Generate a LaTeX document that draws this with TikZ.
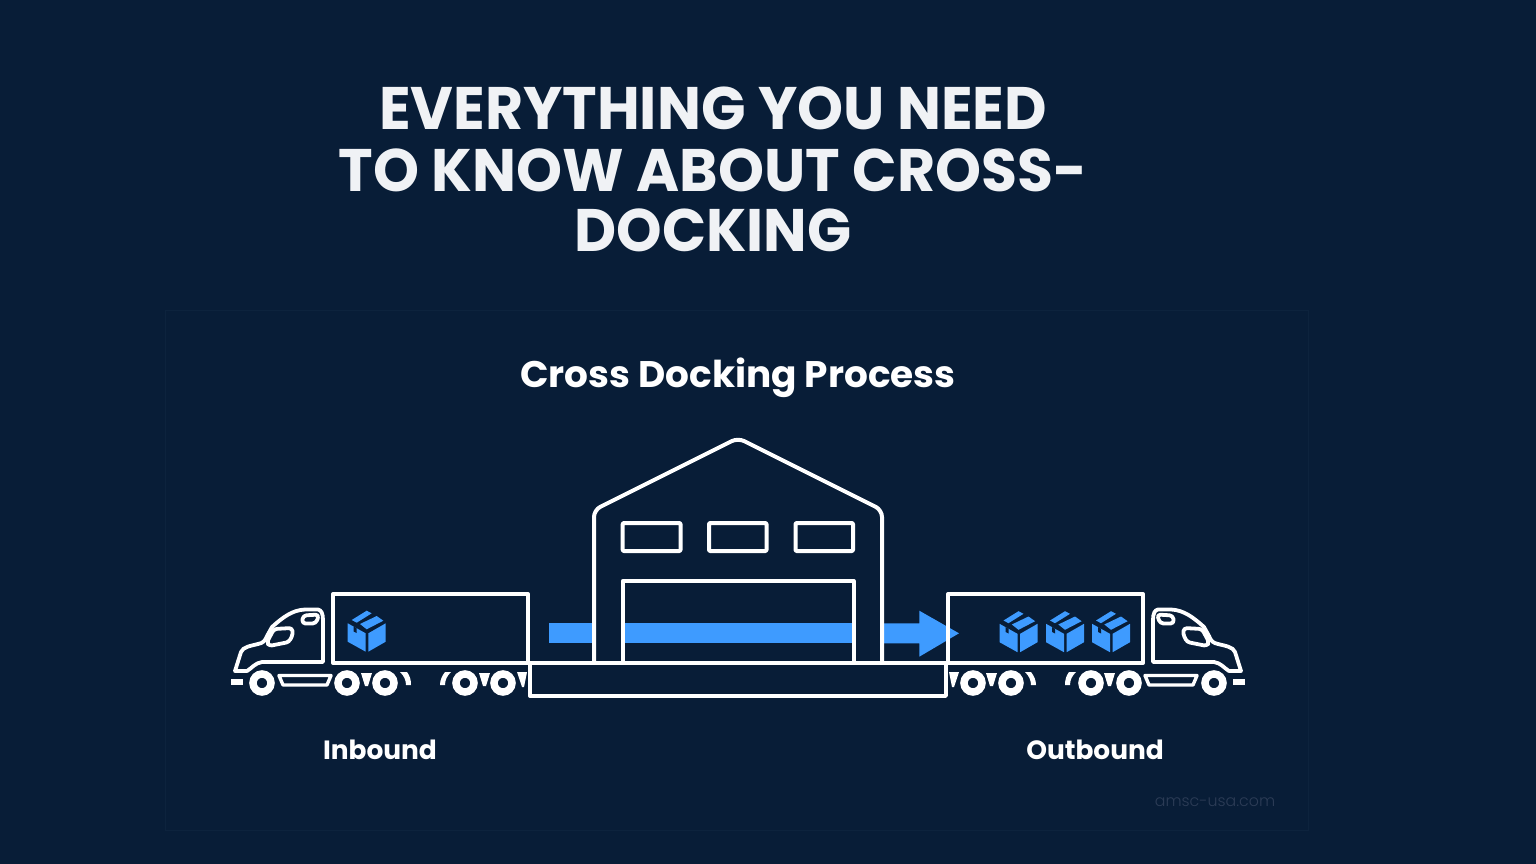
\documentclass[tikz,border=0pt]{standalone}
\usepackage{fontspec}
\setmainfont{Poppins}
\newfontfamily\poplight{Poppins Light}
\definecolor{bgnavy}{RGB}{8,29,55}
\definecolor{panelline}{RGB}{13,35,61}
\definecolor{boxblue}{RGB}{62,155,255}
\definecolor{titlewhite}{RGB}{240,242,245}
\definecolor{marktext}{RGB}{44,60,86}
\tikzset{
  outline/.style={draw=white,line width=4pt,line join=round},
  thinline/.style={draw=white,line width=3.4pt,line join=round},
  solidwhite/.style={fill=white,draw=none},
  bluefill/.style={fill=boxblue,draw=none},
  titletext/.style={text=titlewhite,anchor=base,inner sep=0pt},
  labeltext/.style={text=white,anchor=base,inner sep=0pt},
}
\newcommand{\titlefont}{\bfseries\fontsize{60}{60}\selectfont}
\newcommand{\boxicon}[2]{%
  \begin{scope}[shift={(#1,#2)}]
    \fill[bluefill] (-19,-7.7) -- (-1,2.3) -- (-1,20.7) -- (-19,10.7) -- cycle;
    \fill[bluefill] (1.6,2.3) -- (19,-7.7) -- (19,10.7) -- (1.6,20.7) -- cycle;
    \fill[bluefill] (-15,-11) -- (0,-20.3) -- (5,-17.7) -- (-10,-8.3) -- cycle;
    \fill[bluefill] (-6.7,-7) -- (10,-15) -- (16.6,-10.3) -- (0,-1.7) -- cycle;
    \fill[bgnavy] (-13,-4.5) -- (-13,0.5) -- (-10,2) -- (-10,-2.8) -- cycle;
  \end{scope}}
\newcommand{\wheel}[1]{\draw[white,line width=7.5pt] (#1,683) circle (9);}
\newcommand{\truckrig}{%
  % trailer
  \draw[outline] (333,594) rectangle (528,663);
  % cab
  \draw[thinline,line width=3.8pt] (235,671) -- (241,652)
     .. controls (243,647) and (250,646) .. (258,644)
     .. controls (263,643) and (265,641) .. (267,636) -- (272,627)
     .. controls (282,618) and (292,610) .. (305,609.5) -- (318,609.5)
     .. controls (321,610) and (323,613) .. (323,620) -- (323,662) -- (262,662)
     .. controls (255,663) and (252,668) .. (247,671) -- cycle;
  \draw[thinline,line width=3.8pt,rounded corners=3pt] (274,629) -- (292,628) -- (293,634) -- (289,642) -- (269,646) -- (267,642) -- cycle;
  \draw[thinline,line width=3.8pt,rounded corners=3.5pt] (303,615.5) -- (319,614.5) -- (316,623.5) -- (302,623.5) -- cycle;
  % bumper and step
  \fill[solidwhite] (231,679) rectangle (243,684.5);
  \draw[thinline] (279,675.5) -- (331,675.5) -- (327,685) -- (283,685) -- cycle;
  % wheels
  \wheel{262}\wheel{347}\wheel{385}\wheel{465}\wheel{503}
  % mudguards
  \fill[solidwhite] (361,673) -- (372,673) -- (368,686) -- (365,686) -- cycle;
  \fill[solidwhite] (400,672) -- (407,672) .. controls (410,676) and (411,680) .. (411,685) -- (406,685) .. controls (406,680) and (404,676) .. (400,672) -- cycle;
  \fill[solidwhite] (451,672) -- (445,672) .. controls (442,676) and (440,680) .. (440,685) -- (445,685) .. controls (445,680) and (447,676) .. (451,672) -- cycle;
  \fill[solidwhite] (479,673) -- (490,673) -- (486,686) -- (483,686) -- cycle;
  \fill[solidwhite] (517,672) -- (527,672) -- (524,687) -- (522,687) -- cycle;
}
\begin{document}
\begin{tikzpicture}[x=1pt,y=-1pt]
  \useasboundingbox (0,0) rectangle (1536,864);
  \fill[bgnavy] (0,0) rectangle (1536,864);
  \draw[panelline,line width=1pt] (165,310) rectangle (1308,830);

  % title
  \node[titletext,font=\titlefont] (t1) at (713,130) {\scalebox{0.975}[1]{EVERYTHING YOU NEED}};
  \node[titletext,font=\titlefont] (t2) at (713,191) {\scalebox{0.975}[1]{TO KNOW ABOUT CROSS-}};
  \node[titletext,font=\titlefont] (t3) at (713,251) {\scalebox{0.965}[1]{DOCKING}};
  \node[labeltext,font=\bfseries\fontsize{37}{37}\selectfont] (sub) at (738,387) {\scalebox{1.012}[1]{Cross Docking Process}};

  % arrow, hidden behind the building walls
  \fill[bluefill] (549,623.3) rectangle (594,643.3);
  \fill[bluefill] (622,623.3) rectangle (854,643.3);
  \fill[bluefill] (882,623.3) -- (919.3,623.3) -- (919.3,610.7) -- (959,633.3) -- (919.3,656.7) -- (919.3,643.3) -- (882,643.3) -- cycle;

  % building
  \draw[outline,rounded corners=7pt] (594,663) -- (594,510) -- (738,438) -- (882,510) -- (882,663);
  \draw[outline,rounded corners=1pt] (622.7,523) rectangle (680.5,551);
  \draw[outline,rounded corners=1pt] (709,523) rectangle (766.5,551);
  \draw[outline,rounded corners=1pt] (795.5,523) rectangle (853,551);
  \draw[outline] (622.7,663) -- (622.7,581) -- (853.5,581) -- (853.5,663);
  \draw[thinline] (530,663) rectangle (946,696);

  % trucks
  \truckrig
  \begin{scope}[xshift=1476pt,xscale=-1]
    \truckrig
  \end{scope}

  % parcels
  \boxicon{366.7}{631}
  \boxicon{1018.5}{631.5}
  \boxicon{1065}{631.5}
  \boxicon{1111}{631.5}

  % labels
  \node[labeltext,font=\bfseries\fontsize{26.4}{27}\selectfont] (in) at (380,759) {Inbound};
  \node[labeltext,font=\bfseries\fontsize{26.4}{27}\selectfont] (out) at (1095,759) {Outbound};
  \node[text=marktext,anchor=base,inner sep=0pt,font=\poplight\fontsize{15.8}{16}\selectfont] (mark) at (1215,806) {amsc-usa.com};
\end{tikzpicture}
\end{document}
